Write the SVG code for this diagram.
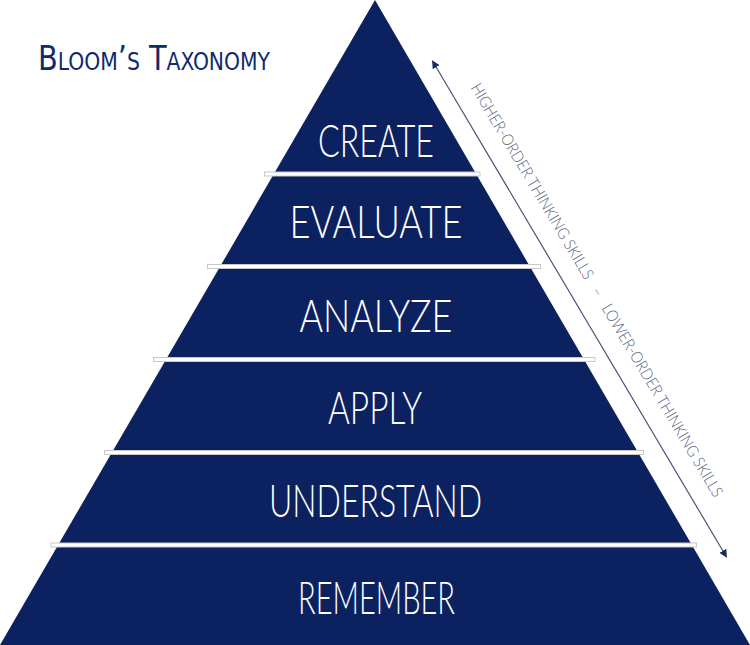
<svg xmlns="http://www.w3.org/2000/svg" width="750" height="645" viewBox="0 0 750 645">
<defs>
<style>
.band{fill:#0c2260;}
.lbl{fill:#ffffff;font-family:"Lato","Open Sans","Liberation Sans",sans-serif;font-weight:300;font-size:45px;text-anchor:middle;}
.sep{fill:#ffffff;stroke:#c8c8c8;stroke-width:1;}
.axis{stroke:#4a5579;stroke-width:1.2;fill:none;}
.axtxt{fill:#5d6685;font-family:"Lato","Open Sans","Liberation Sans",sans-serif;font-weight:300;font-size:16px;white-space:pre;}
.title{fill:#0f2a6e;font-family:"DejaVu Sans","Liberation Sans",sans-serif;font-stretch:condensed;font-variant:small-caps;font-size:34px;}
</style>
<marker id="ah" viewBox="0 0 10 10" refX="9" refY="5" markerWidth="8" markerHeight="8" markerUnits="userSpaceOnUse" orient="auto-start-reverse">
<path d="M0,0 L10,5 L0,10 z" fill="#1b2a5e"/>
</marker>
</defs>
<rect width="750" height="645" fill="#ffffff"/>
<g id="title"><text class="title" x="38" y="70" textLength="232" lengthAdjust="spacingAndGlyphs">Bloom’s Taxonomy</text></g>
<g id="create"><polygon class="band" points="375,0 476.2,174 273.8,174"/><text class="lbl" x="376" y="157" textLength="116" lengthAdjust="spacingAndGlyphs">CREATE</text></g>
<g id="evaluate"><polygon class="band" points="273.8,174 476.2,174 529.9,266.5 220.1,266.5"/><text class="lbl" x="376" y="238" textLength="173" lengthAdjust="spacingAndGlyphs">EVALUATE</text></g>
<g id="analyze"><polygon class="band" points="220.1,266.5 529.9,266.5 584,359.5 166,359.5"/><text class="lbl" x="376" y="332" textLength="153" lengthAdjust="spacingAndGlyphs">ANALYZE</text></g>
<g id="apply"><polygon class="band" points="166,359.5 584,359.5 638.1,452.5 111.9,452.5"/><text class="lbl" x="375" y="424" textLength="94" lengthAdjust="spacingAndGlyphs">APPLY</text></g>
<g id="understand"><polygon class="band" points="111.9,452.5 638.1,452.5 691.9,545 58.1,545"/><text class="lbl" x="375.5" y="517" textLength="213" lengthAdjust="spacingAndGlyphs">UNDERSTAND</text></g>
<g id="remember"><polygon class="band" points="58.1,545 691.9,545 750,645 0,645"/><text class="lbl" x="376.5" y="614" textLength="157" lengthAdjust="spacingAndGlyphs">REMEMBER</text></g>
<g id="separators">
<rect class="sep" x="264.5" y="172" width="215.5" height="4"/>
<rect class="sep" x="207.5" y="264.5" width="333" height="4"/>
<rect class="sep" x="153.5" y="357.5" width="441.5" height="4"/>
<rect class="sep" x="104.5" y="450.5" width="539" height="4"/>
<rect class="sep" x="51" y="543" width="645.5" height="4"/>
</g>
<g id="connectors">
<line class="axis" x1="432.5" y1="61" x2="726.5" y2="557" marker-start="url(#ah)" marker-end="url(#ah)"/>
</g>
<g id="axis-label"><text class="axtxt" transform="translate(470.2,87.4) rotate(59.3)" x="0" y="0" textLength="478" lengthAdjust="spacingAndGlyphs">HIGHER-ORDER THINKING SKILLS   –   LOWER-ORDER THINKING SKILLS</text></g>
</svg>
